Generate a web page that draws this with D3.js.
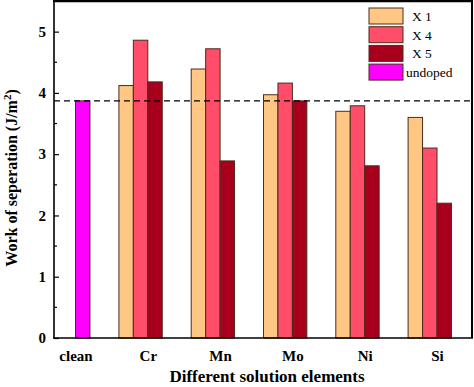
<!DOCTYPE html>
<html lang="en">
  <head>
    <meta charset="UTF-8" />
    <title>Work of separation</title>
    <script src="https://cdn.jsdelivr.net/npm/d3@7.6.1/dist/d3.min.js"></script>
    <style>
      body { margin: 0; background: #fff; }
      svg { display: block; font-family: 'Liberation Serif', 'Times New Roman', serif; }
    </style>
  </head>
  <body>
    <div id="box"></div>
    <script>
      const width = 474;
      const height = 387;

      // data
      const categories = ['clean', 'Cr', 'Mn', 'Mo', 'Ni', 'Si'];
      const seriesNames = ['X 1', 'X 4', 'X 5', 'undoped'];
      const x1 = [null, 4.12, 4.39, 3.97, 3.70, 3.60];
      const x4 = [null, 4.86, 4.72, 4.16, 3.79, 3.10];
      const x5 = [null, 4.18, 2.89, 3.87, 2.81, 2.20];
      const undoped = [3.87, null, null, null, null, null];
      const cleanLevel = 3.87;
      const yTicks = [0, 1, 2, 3, 4, 5];

      const colors = ['#ffc684', '#ff4d6a', '#a8001c', '#ff00ff'];
      const margin = {left: 54, right: 2, top: 1, bottom: 49};

      const svg = d3.select('#box').append('svg').attr('width', width).attr('height', height);

      // 类别中心位置
      const xScale = d3.scalePoint().domain(categories).range([75.5, 437]);
      const barW = 14.45;
      // 每组 4 个槽位
      const slot = d3.scaleBand().domain(d3.range(4)).range([-2 * barW, 2 * barW]);

      const yScale = d3.scaleLinear().domain([0, 5.5]).range([height - margin.bottom, margin.top]);

      const seriesData = [x1, x4, x5, undoped];
      const bars = [];
      seriesData.forEach((vals, s) => {
        vals.forEach((v, i) => {
          if (v == null) return;
          // clean 组的柱子放在第 3 个槽位
          const k = s === 3 ? 2 : s;
          bars.push({cat: categories[i], v, s, k});
        });
      });

      svg.append('g')
        .selectAll('rect')
        .data(bars)
        .enter()
        .append('rect')
        .attr('x', d => xScale(d.cat) + slot(d.k))
        .attr('y', d => yScale(d.v))
        .attr('width', slot.bandwidth())
        .attr('height', d => yScale(0) - yScale(d.v))
        .attr('fill', d => colors[d.s])
        .attr('stroke', '#4a2c1c')
        .attr('stroke-width', 1);

      // 虚线
      svg.append('line')
        .attr('x1', margin.left)
        .attr('x2', width - margin.right)
        .attr('y1', yScale(cleanLevel))
        .attr('y2', yScale(cleanLevel))
        .attr('stroke', '#000')
        .attr('stroke-width', 1.3)
        .attr('stroke-dasharray', '6,4');

      // Y 轴
      const yAxis = d3.axisLeft(yScale).tickValues(yTicks).tickSize(-5).tickPadding(8).tickFormat(d3.format('d'));
      const gy = svg.append('g')
        .attr('transform', `translate(${margin.left},0)`)
        .call(yAxis);
      gy.select('.domain').remove();
      gy.selectAll('text').attr('font-size', 15).attr('font-weight', 'bold').attr('font-family', 'Liberation Serif');
      gy.selectAll('line').attr('stroke-width', 1.2);
      const minor = d3.range(0.5, 5.5, 1);
      svg.append('g')
        .selectAll('line')
        .data(minor)
        .enter()
        .append('line')
        .attr('x1', margin.left)
        .attr('x2', margin.left + 3)
        .attr('y1', d => yScale(d))
        .attr('y2', d => yScale(d))
        .attr('stroke', '#000')
        .attr('stroke-width', 1.2);

      // X 轴标签
      const xAxis = d3.axisBottom(xScale).tickSize(0).tickPadding(12);
      const gx = svg.append('g')
        .attr('transform', `translate(0,${height - margin.bottom})`)
        .call(xAxis);
      gx.select('.domain').remove();
      gx.selectAll('text').attr('font-size', 15).attr('font-weight', 'bold').attr('font-family', 'Liberation Serif');

      // 边框
      const x0 = margin.left;
      const xr = width - margin.right;
      const yb = height - margin.bottom;
      svg.append('line').attr('x1', x0).attr('x2', x0).attr('y1', margin.top).attr('y2', yb)
        .attr('stroke', '#000').attr('stroke-width', 1.6);
      svg.append('line').attr('x1', x0 - 1).attr('x2', xr + 1).attr('y1', yb).attr('y2', yb)
        .attr('stroke', '#000').attr('stroke-width', 1.6);
      svg.append('line').attr('x1', x0 - 1).attr('x2', xr + 1).attr('y1', margin.top).attr('y2', margin.top)
        .attr('stroke', '#000').attr('stroke-width', 2.4);
      svg.append('line').attr('x1', xr).attr('x2', xr).attr('y1', margin.top).attr('y2', yb)
        .attr('stroke', '#000').attr('stroke-width', 2);

      // 图例
      const legend = svg.append('g').attr('transform', 'translate(369,8)');
      const items = legend.selectAll('g')
        .data(seriesNames)
        .enter()
        .append('g')
        .attr('transform', (d, i) => `translate(0,${i * 18.7})`);
      items.append('rect')
        .attr('width', 34)
        .attr('height', 16)
        .attr('fill', (d, i) => colors[i])
        .attr('stroke', '#4a2c1c')
        .attr('stroke-width', 1);
      items.append('text')
        .attr('x', (d, i) => (i === 3 ? 37 : 43))
        .attr('y', 13)
        .attr('font-size', 13.5)
        .text(d => d);

      // 坐标轴标题
      svg.append('text')
        .attr('x', 267)
        .attr('y', 382)
        .attr('text-anchor', 'middle')
        .attr('font-size', 17)
        .attr('font-weight', 'bold')
        .text('Different solution elements');

      const yTitle = svg.append('text')
        .attr('transform', 'translate(17,178) rotate(-90)')
        .attr('text-anchor', 'middle')
        .attr('font-size', 16)
        .attr('font-weight', 'bold');
      yTitle.append('tspan').text('Work of seperation (J/m');
      yTitle.append('tspan').attr('font-size', 11).attr('dy', -6).text('2');
      yTitle.append('tspan').attr('dy', 6).text(')');
    </script>
  </body>
</html>
